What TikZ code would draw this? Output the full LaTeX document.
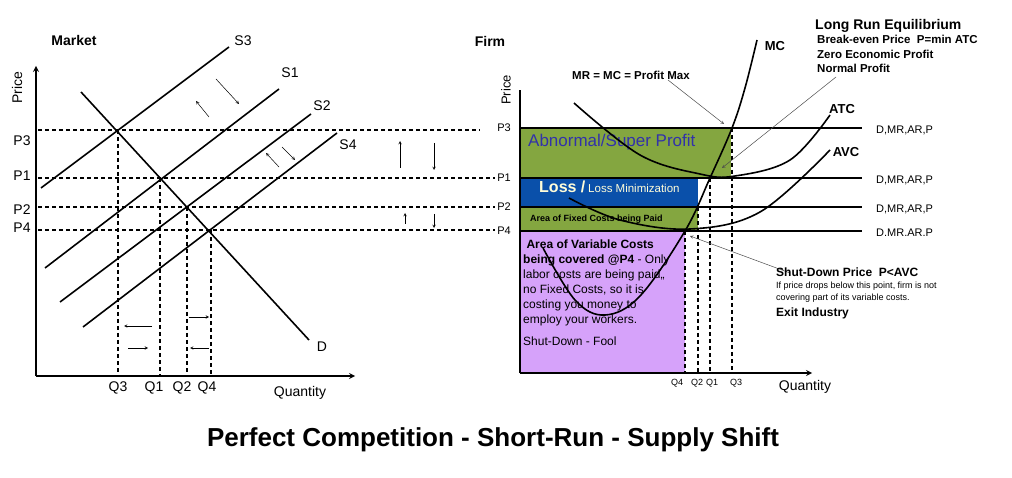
\documentclass[tikz,border=0pt]{standalone}
\usepackage{fontspec}
\setmainfont{Liberation Sans}
\definecolor{gr}{RGB}{132,166,64}
\definecolor{bu}{RGB}{10,80,170}
\definecolor{pu}{RGB}{214,162,250}
\definecolor{ab}{RGB}{50,50,170}
\begin{document}
\begin{tikzpicture}[x=1pt,y=-1pt,
 ln/.style={line width=1.6pt},
 dsh/.style={line width=1.4pt,dash pattern=on 4pt off 3pt},
 ar/.style={-stealth,line width=0.5pt},
 lab/.style={font=\fontsize{14}{15}\selectfont,inner sep=0pt},
 sm/.style={font=\fontsize{11}{12}\selectfont,inner sep=0pt},
 bl/.style={font=\bfseries\fontsize{13}{14}\selectfont,inner sep=0pt}]
\useasboundingbox (0,0) rectangle (1012,478);
% ===== Market
\node[bl,font=\bfseries\fontsize{14}{15}\selectfont] (mk) at (74,40) {Market};
\node[lab,rotate=90] (pr) at (17,88) {Price};
\coordinate (o1) at (36,376);
\coordinate (yt1) at (36,66);
\coordinate (xt1) at (355,376);
\draw[ln,-stealth] (o1) -- (yt1);
\draw[ln,-stealth] (o1) -- (xt1);
\foreach \n/\y/\e in {P3/130/480,P1/178/495,P2/207/495,P4/230/495}{
 \coordinate (h\n) at (38,\y); \coordinate (he\n) at (\e,\y);
 \draw[dsh] (h\n) -- (he\n);}
\node[lab] (lP3) at (22,141) {P3};
\node[lab] (lP1) at (22,176) {P1};
\node[lab] (lP2) at (22,210) {P2};
\node[lab] (lP4) at (22,228) {P4};
\draw[ln] (41,188) coordinate(s3a) -- (229,47) coordinate(s3b);
\draw[ln] (45,268) coordinate(s1a) -- (279,89) coordinate(s1b);
\draw[ln] (60,302) coordinate(s2a) -- (311,114) coordinate(s2b);
\draw[ln] (83,327) coordinate(s4a) -- (337,133) coordinate(s4b);
\draw[ln] (81,92) coordinate(da) -- (309,340) coordinate(db);
\node[lab] (ls3) at (243,41) {S3};
\node[lab] (ls1) at (290,73) {S1};
\node[lab] (ls2) at (322,106) {S2};
\node[lab] (ls4) at (348,145) {S4};
\node[lab] (ld) at (322,347) {D};
\node[lab] (qty1) at (300,393) {Quantity};
\foreach \n/\x/\y in {Q3/118/130,Q1/160/178,Q2/187/207,Q4/211/230}{
 \coordinate (v\n) at (\x,\y); \coordinate (vb\n) at (\x,375);
 \draw[dsh] (v\n) -- (vb\n);}
\node[lab] (q3) at (118,388) {Q3};
\node[lab] (q1) at (154,388) {Q1};
\node[lab] (q2) at (182,388) {Q2};
\node[lab] (q4) at (207,388) {Q4};
\draw[ar] (209,117) -- (196,101);
\draw[ar] (216,79) -- (239,104);
\draw[ar] (279,167) -- (266,153);
\draw[ar] (282,147) -- (295,160);
\draw[ar] (400,168) -- (400,141);
\draw[ar] (434,143) -- (434,170);
\draw[ar] (405,224) -- (405,213);
\draw[ar] (434,214) -- (434,228);
\draw[ar] (152,326) -- (124,326);
\draw[ar] (128,348) -- (148,348);
\draw[ar] (189,317) -- (209,317);
\draw[ar] (209,348) -- (190,348);
% ===== Firm
\node[bl,font=\bfseries\fontsize{14}{15}\selectfont] (fm) at (490,41) {Firm};
\node[lab,font=\fontsize{13}{14}\selectfont,rotate=90] (pr2) at (506,90) {Price};
\fill[gr] (520,128) rectangle (731,178);
\fill[bu] (520,178) rectangle (698,206);
\fill[gr] (520,207) rectangle (698,230);
\fill[pu] (520,231) rectangle (685,373);
\node[font=\fontsize{17}{18}\selectfont,text=ab,inner sep=0pt,anchor=west] (ab) at (528,142) {Abnormal/Super Profit};
\node[text=yellow!15,inner sep=0pt,anchor=west] (lo) at (539,187) {{\bfseries\fontsize{16}{17}\selectfont Loss /} {\fontsize{11.5}{12}\selectfont Loss Minimization}};
\node[inner sep=0pt,anchor=west,font=\bfseries\fontsize{9}{10}\selectfont] (fx) at (530,219) {Area of Fixed Costs being Paid};
\node[inner sep=0pt,anchor=north west,align=left,font=\fontsize{12}{15}\selectfont] (vc) at (523,240) {\textbf{\ Area of Variable Costs}\\\textbf{being covered @P4} - Only\\labor costs are being paid,,\\no Fixed Costs, so it is\\costing you money to\\employ your workers.\\[7pt]Shut-Down - Fool};
\coordinate (o2) at (520,373);
\coordinate (yt2) at (520,90);
\coordinate (xt2) at (812,373);
\draw[ln] (o2) -- (yt2);
\draw[ln,-stealth] (o2) -- (xt2);
\foreach \n/\y/\t in {P3/128/{D,MR,AR,P},P1/178/{D,MR,AR,P},P2/207/{D,MR,AR,P},P4/231/{D.MR.AR.P}}{
 \coordinate (g\n) at (520,\y); \coordinate (ge\n) at (862,\y);
 \draw[line width=1.3pt] (g\n) -- (ge\n);
 \node[sm,anchor=west] (t\n) at (876,\y+2) {\t};
 \node[sm] (r\n) at (504,\y) {\n};}
\foreach \n/\x/\y in {Q4/685/231,Q2/698/207,Q1/710/178,Q3/732/128}{
 \coordinate (w\n) at (\x,\y); \coordinate (wb\n) at (\x,372);
 \draw[dsh,line width=1.2pt] (w\n) -- (wb\n);}
\node[sm,font=\fontsize{9}{10}\selectfont] (fq4) at (677,383) {Q4};
\node[sm,font=\fontsize{9}{10}\selectfont] (fq2) at (697,383) {Q2};
\node[sm,font=\fontsize{9}{10}\selectfont] (fq1) at (712,383) {Q1};
\node[sm,font=\fontsize{9}{10}\selectfont] (fq3) at (736,383) {Q3};
\node[lab] (qty2) at (805,387) {Quantity};
\draw[ln] plot[smooth,tension=0.6] coordinates {(543,248) (575,300) (605,315) (640,296) (685,231) (710,178) (732,128) (745,88) (757,40)};
\draw[ln] plot[smooth,tension=0.6] coordinates {(574,103) (640,155) (700,174) (735,176) (790,160) (830,115)};
\draw[ln] plot[smooth,tension=0.6] coordinates {(569,198) (620,220) (690,229) (760,212) (830,150)};
\node[bl] (mc) at (775,46) {MC};
\node[bl] (atc) at (842,109) {ATC};
\node[bl] (avc) at (846,152) {AVC};
\node[bl,font=\bfseries\fontsize{14}{15}\selectfont,anchor=west] (lr) at (815,26) {Long Run Equilibrium};
\node[bl,font=\bfseries\fontsize{11.5}{14.5}\selectfont,anchor=north west,align=left] (lr2) at (817,35) {Break-even Price\ \ P=min ATC\\Zero Economic Profit\\Normal Profit};
\node[bl,font=\bfseries\fontsize{11.5}{12}\selectfont] (mrmc) at (631,75) {MR = MC = Profit Max};
\coordinate (a1) at (668,80); \coordinate (a1e) at (724,124);
\draw[ar,gray!60!black] (a1) -- (a1e);
\coordinate (a2) at (836,77); \coordinate (a2e) at (722,168);
\draw[ar,gray!60!black] (a2) -- (a2e);
\coordinate (a3) at (790,273); \coordinate (a3e) at (690,236);
\draw[ar,gray!60!black] (a3) -- (a3e);
\node[bl,font=\bfseries\fontsize{12}{13}\selectfont,anchor=west] (sd) at (776,272) {Shut-Down Price\ \ P<AVC};
\node[sm,font=\fontsize{9}{11.5}\selectfont,anchor=north west,align=left] (sd2) at (776,282) {If price drops below this point, firm is not\\covering part of its variable costs.};
\node[bl,font=\bfseries\fontsize{12}{13}\selectfont,anchor=west] (ex) at (776,313) {Exit Industry};
\node[font=\bfseries\fontsize{26}{28}\selectfont,inner sep=0pt] (title) at (493,440) {Perfect Competition - Short-Run - Supply Shift};
\end{tikzpicture}
\end{document}
